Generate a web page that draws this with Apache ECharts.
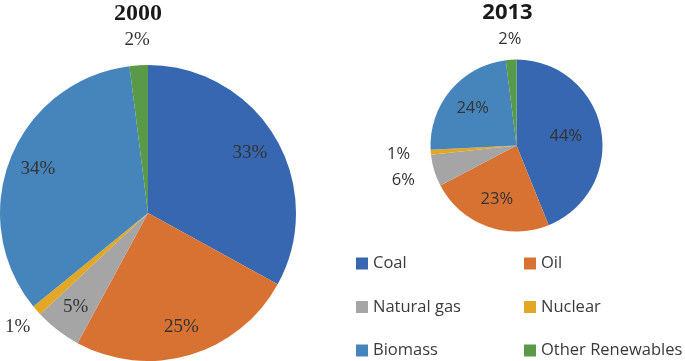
<!DOCTYPE html>
<html><head><meta charset="utf-8">
<script src="https://cdn.jsdelivr.net/npm/echarts@6/dist/echarts.min.js"></script>
<style>html,body{margin:0;padding:0;background:#fff}#c{width:685px;height:361px}</style>
</head><body><div id="c"></div>
<script>
// ---- data ----
const categories = ['Coal', 'Oil', 'Natural gas', 'Nuclear', 'Biomass', 'Other Renewables'];
const share2000 = [33.0, 24.9, 5.1, 1.1, 33.9, 2.0];
const share2013 = [43.9, 23.4, 6.0, 0.9, 23.8, 2.0];
const years = ['2000', '2013'];

// ---- style / layout ----
const colors = ['#3767B0', '#D77232', '#A5A5A5', '#E2A823', '#4685BC', '#589A48'];
const pies = [
  { year: years[0], values: share2000, center: [148, 213], r: 148,
    font: 'Liberation Serif', size: 19,
    title: { x: 138, y: 14, font: 'bold 24px "Liberation Serif"' },
    rings: [{ ratio: 0.78, idx: [0, 1, 2, 4] }, { ratio: 1.15, idx: [3, 5] }] },
  { year: years[1], values: share2013, center: [516.5, 145.5], r: 86,
    font: 'Open Sans', size: 16.5,
    title: { x: 507.5, y: 13, font: 'bold 22px "Open Sans"' },
    rings: [{ ratio: 0.55, idx: [0] }, { ratio: 0.63, idx: [1, 4] }, { ratio: 1.34, idx: [2, 3] }, { ratio: 1.2, idx: [5] }] }
];

const pct = p => Math.round(p.percent) + '%';
const series = [];
pies.forEach(p => {
  series.push({
    type: 'pie', name: p.year, center: p.center, radius: [0, p.r],
    startAngle: 90, clockwise: true, silent: true, animation: false,
    label: { show: false }, labelLine: { show: false },
    itemStyle: { borderWidth: 0 },
    data: p.values.map((v, i) => ({ name: categories[i], value: v, itemStyle: { color: colors[i] } }))
  });
});
pies.forEach(p => {
  p.rings.forEach(ring => {
    const rr = ring.ratio * p.r;
    series.push({
      type: 'pie', center: p.center, radius: [rr - 0.5, rr + 0.5],
      startAngle: 90, clockwise: true, silent: true, animation: false, z: 5,
      itemStyle: { color: 'rgba(0,0,0,0)', borderWidth: 0 },
      labelLine: { show: false },
      label: { show: true, position: 'inside', formatter: pct, color: '#333',
               fontFamily: p.font, fontSize: p.size, textBorderWidth: 0 },
      data: p.values.map((v, i) => ({ name: categories[i], value: v,
               label: { show: ring.idx.includes(i) } }))
    });
  });
});

const legendCommon = {
  orient: 'vertical', icon: 'rect', itemWidth: 12, itemHeight: 12, itemGap: 26.5,
  selectedMode: false, top: 255, padding: 0, height: 104,
  textStyle: { fontFamily: 'Open Sans', fontSize: 16.5, lineHeight: 16, color: '#3a3a3a' }
};

const chart = echarts.init(document.getElementById('c'), null, { renderer: 'canvas' });
chart.setOption({
  animation: false,
  backgroundColor: '#fff',
  legend: [
    Object.assign({}, legendCommon, { left: 356, data: [categories[0], categories[2], categories[4]] }),
    Object.assign({}, legendCommon, { left: 524, data: [categories[1], categories[3], categories[5]] })
  ],
  graphic: pies.map(p => ({
    type: 'text', x: p.title.x, y: p.title.y,
    style: { text: p.year, font: p.title.font, fill: '#1a1a1a', textAlign: 'center', textVerticalAlign: 'middle' }
  })),
  series: series
});
</script></body></html>
